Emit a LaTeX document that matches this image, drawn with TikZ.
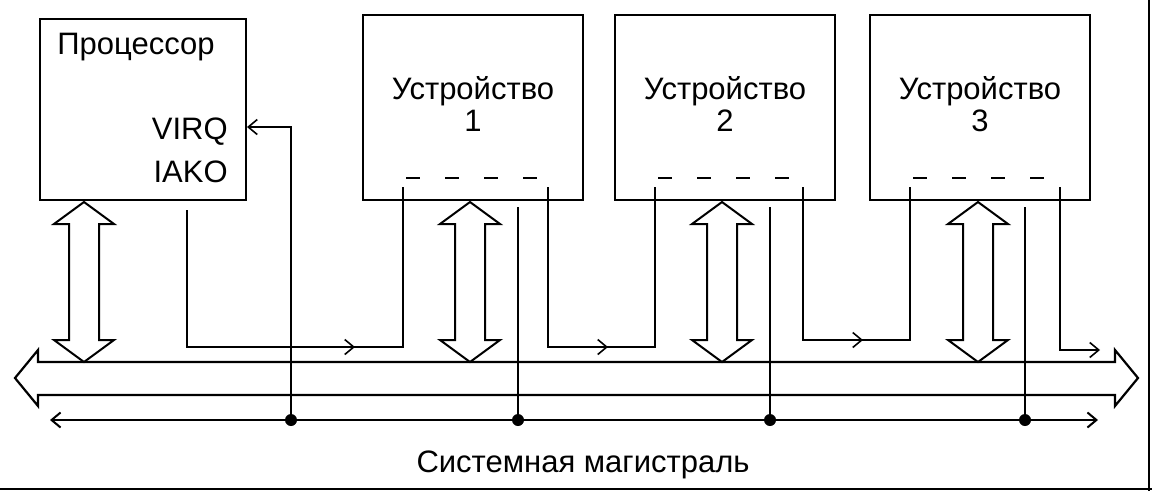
\documentclass[tikz,border=0pt]{standalone}
\usepackage{fontspec}
\setmainfont{Liberation Sans}
\usetikzlibrary{arrows.meta}
\begin{document}
\begin{tikzpicture}[x=1pt,y=-1pt,line width=2pt,
  box/.style={draw,rectangle,inner sep=0},
  lbl/.style={font=\fontsize{31}{34}\selectfont},
  sig/.style={-{Straight Barb[length=9pt,width=15pt,line width=1.6pt]}},
  dotn/.style={circle,fill,inner sep=0,minimum size=12pt}]
\useasboundingbox (0,0) rectangle (1152,491);
\fill[white] (0,0) rectangle (1152,491);
\draw[line width=2.5pt] (0,489) -- (1152,489);
\draw[line width=2.5pt] (1149,0) -- (1149,491);
% boxes
\node[box,minimum width=206pt,minimum height=181pt] (cpu) at (143,109.5) {};
\node[box,minimum width=220pt,minimum height=185pt] (d1) at (473,107.5) {};
\node[box,minimum width=220pt,minimum height=185pt] (d2) at (725,107.5) {};
\node[box,minimum width=220pt,minimum height=185pt] (d3) at (980,107.5) {};
\node[lbl] (cput) at (136,47) {Процессор};
\node[lbl,anchor=east] (virq) at (232,132) {VIRQ};
\node[lbl,anchor=east] (iako) at (232,172) {IAKO};
\foreach \n/\x/\k in {d1/473/1,d2/725/2,d3/980/3}{
  \node[lbl,align=center] (\n t) at (\x,104) {Устройство\\[-2pt]\k};
  \draw[dash pattern=on 14pt off 25pt] (\x-67,178) -- (\x+75,178);
}
\node[lbl] (cap) at (583,465) {Системная магистраль};
% bus
\draw[line width=2.2pt] (15,378) -- (38,350) -- (38,362) -- (1115,362) -- (1115,350) -- (1138,378) -- (1115,406) -- (1115,395) -- (38,395) -- (38,406) -- cycle;
\coordinate (bl) at (50,420); \coordinate (br) at (1098,420);
\draw[{Straight Barb[length=9pt,width=15pt]}-{Straight Barb[length=9pt,width=15pt]}] (bl) -- (br);
% hollow double arrows
\foreach \c/\t in {84/202,470/202,722/202,978/202}{
  \draw[line width=2pt,fill=white] (\c,\t) -- (\c+30,\t+22) -- (\c+15,\t+22) -- (\c+15,\t+138) -- (\c+30,\t+138) -- (\c,\t+160) -- (\c-30,\t+138) -- (\c-15,\t+138) -- (\c-15,\t+22) -- (\c-30,\t+22) -- cycle;
}
% dots
\node[dotn] (p0) at (291,420) {};
\node[dotn] (p1) at (518,420) {};
\node[dotn] (p2) at (770,420) {};
\node[dotn] (p3) at (1025,420) {};
% VIRQ
\draw[sig] (p0.center) -- (291,127) -- (cpu.east |- 0,127);
\draw (p1.center) -- (518,207);
\draw (p2.center) -- (770,207);
\draw (p3.center) -- (1025,207);
% daisy chain
\draw (187,210) -- (187,347) -- (403,347) -- (403,187);
\draw[sig] (187,347) -- (355,347);
\draw (548,187) -- (548,347) -- (655,347) -- (655,187);
\draw[sig] (548,347) -- (608,347);
\draw (803,187) -- (803,340) -- (910,340) -- (910,187);
\draw[sig] (803,340) -- (863,340);
\draw[sig] (1060,187) -- (1060,350) -- (1100,350);
\end{tikzpicture}
\end{document}
